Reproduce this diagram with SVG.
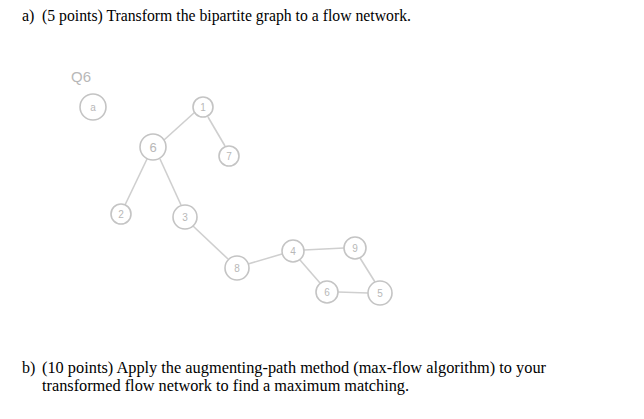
<svg xmlns="http://www.w3.org/2000/svg" width="644" height="419" viewBox="0 0 644 419">
<style>
.t{font-family:"Liberation Serif",serif;font-size:16px;fill:#000}
.n circle{fill:none;stroke:#c4c4c4;stroke-width:1.6}
.n text{font-family:"Liberation Sans",sans-serif;font-size:10px;fill:#b8b8b8;text-anchor:middle}
#edges line{stroke:#cfcfcf;stroke-width:1.6}
</style>
<rect width="644" height="419" fill="#fff"/>
<text class="t" x="22" y="21">a)</text>
<text class="t" x="42" y="21" textLength="369" lengthAdjust="spacingAndGlyphs">(5 points) Transform the bipartite graph to a flow network.</text>
<text class="t" x="22" y="373">b)</text>
<text class="t" x="42" y="373" textLength="504" lengthAdjust="spacingAndGlyphs">(10 points) Apply the augmenting-path method (max-flow algorithm) to your</text>
<text class="t" x="42" y="391" textLength="367" lengthAdjust="spacingAndGlyphs">transformed flow network to find a maximum matching.</text>
<text x="71" y="82" style="font-family:'Liberation Sans',sans-serif;font-size:15px;fill:#b8b8b8">Q6</text>
<g id="edges">
<line x1="195" y1="112" x2="164" y2="140"/>
<line x1="208" y1="117" x2="225" y2="146"/>
<line x1="147" y1="159" x2="125" y2="205"/>
<line x1="160" y1="159" x2="181" y2="205"/>
<line x1="193" y1="226" x2="228" y2="259"/>
<line x1="248" y1="264" x2="282" y2="254"/>
<line x1="304" y1="250" x2="344" y2="248"/>
<line x1="300" y1="260" x2="320" y2="283"/>
<line x1="338" y1="292" x2="368" y2="293"/>
<line x1="360" y1="258" x2="375" y2="282"/>
</g>
<g id="na" class="n"><circle cx="93" cy="107" r="13"/><text x="93" y="111">a</text></g>
<g id="n1" class="n"><circle cx="203" cy="107" r="10"/><text x="203" y="111">1</text></g>
<g id="n6" class="n"><circle cx="153" cy="147" r="13"/><text x="153" y="152" style="font-size:13px">6</text></g>
<g id="n7" class="n"><circle cx="229" cy="156" r="10"/><text x="229" y="160">7</text></g>
<g id="n2" class="n"><circle cx="121" cy="214" r="10"/><text x="121" y="218">2</text></g>
<g id="n3" class="n"><circle cx="185" cy="217" r="12"/><text x="185" y="221">3</text></g>
<g id="n8" class="n"><circle cx="237" cy="268" r="12"/><text x="237" y="272">8</text></g>
<g id="n4" class="n"><circle cx="293" cy="251" r="11"/><text x="293" y="255">4</text></g>
<g id="n9" class="n"><circle cx="355" cy="248" r="11"/><text x="355" y="252">9</text></g>
<g id="n6b" class="n"><circle cx="327" cy="292" r="11"/><text x="327" y="296">6</text></g>
<g id="n5" class="n"><circle cx="380" cy="293" r="12"/><text x="380" y="297">5</text></g>
</svg>
